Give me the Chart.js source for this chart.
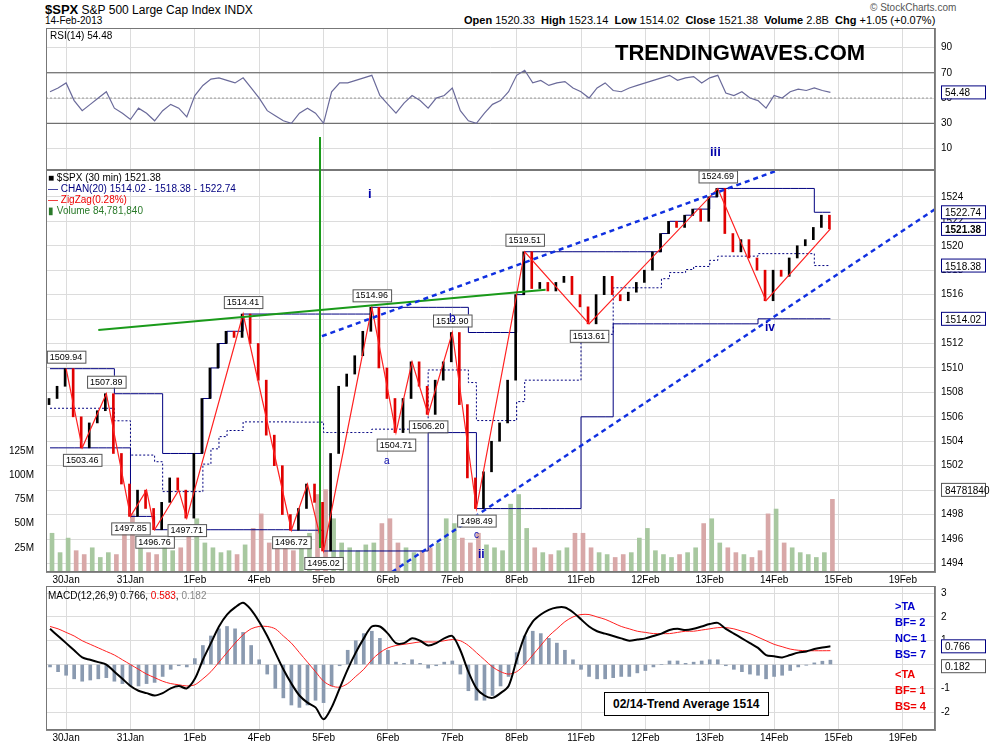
<!DOCTYPE html>
<html><head><meta charset="utf-8">
<script src="https://cdn.jsdelivr.net/npm/chart.js@4/dist/chart.umd.min.js"></script>
<style>
body{margin:0;background:#fff;font-family:"Liberation Sans",Arial,sans-serif;}
#wrap{position:relative;width:990px;height:744px;overflow:hidden;}
canvas{position:absolute;left:0;}
.t{position:absolute;white-space:nowrap;font-size:11px;}
</style></head><body><div id="wrap">
<canvas id="rsi" width="990" height="142" style="top:28px"></canvas>
<canvas id="main" width="990" height="416" style="top:170px"></canvas>
<canvas id="macd" width="990" height="158" style="top:586px"></canvas>
<div class="t" style="left:45px;top:2px;font-size:12px"><b style="font-size:13px">$SPX</b> S&amp;P 500 Large Cap Index INDX</div>
<div class="t" style="left:45px;top:15px;font-size:10px">14-Feb-2013</div>
<div class="t" style="left:464px;top:14px;font-size:11px"><b>Open</b> 1520.33 &nbsp;<b>High</b> 1523.14 &nbsp;<b>Low</b> 1514.02 &nbsp;<b>Close</b> 1521.38 &nbsp;<b>Volume</b> 2.8B &nbsp;<b>Chg</b> +1.05 (+0.07%)</div>
<div class="t" style="left:870px;top:2px;font-size:10px;color:#555">© StockCharts.com</div>
<div class="t" style="left:615px;top:40px;font-size:22px;font-weight:bold">TRENDINGWAVES.COM</div>
<div class="t" style="left:50px;top:30px;font-size:10px">RSI(14) 54.48</div>
<div class="t" style="left:48px;top:172px;font-size:10px;line-height:11px">■ $SPX (30 min) 1521.38<br><span style="color:#000080">— CHAN(20) 1514.02 - 1518.38 - 1522.74</span><br><span style="color:#e00">— ZigZag(0.28%)</span><br><span style="color:#2a7a2a">▮ Volume 84,781,840</span></div>
<div class="t" style="left:48px;top:590px;font-size:10px">MACD(12,26,9) 0.766, <span style="color:#e00">0.583</span>, <span style="color:#888">0.182</span></div>
<div style="position:absolute;left:319px;top:137px;width:2px;height:411px;background:#1a9a1a"></div>
<div class="t" style="left:368px;top:186px;color:#00a;font-weight:bold;font-size:13px">i</div>
<div class="t" style="left:384px;top:455px;color:#00a;font-size:10px">a</div>
<div class="t" style="left:449px;top:311px;color:#00a;font-size:12px">b</div>
<div class="t" style="left:474px;top:529px;color:#00a;font-size:10px">c</div>
<div class="t" style="left:478px;top:547px;color:#00a;font-weight:bold;font-size:12px">ii</div>
<div class="t" style="left:710px;top:144px;color:#00a;font-weight:bold;font-size:13px">iii</div>
<div class="t" style="left:765px;top:320px;color:#00a;font-weight:bold;font-size:12px">iv</div>
<div class="t" style="left:895px;top:598px;color:#00c;font-weight:bold;font-size:11px;line-height:16px">&gt;TA<br>BF= 2<br>NC= 1<br>BS= 7</div>
<div class="t" style="left:895px;top:666px;color:#e00;font-weight:bold;font-size:11px;line-height:16px">&lt;TA<br>BF= 1<br>BS= 4</div>
<div class="t" style="left:604px;top:692px;border:1px solid #000;background:#fff;padding:4px 8px;font-weight:bold;font-size:12px">02/14-Trend Average 1514</div>
</div>
<script>
// x = bar index (8 bars of 30 min per day drawn)
const dayIdx = [2, 10, 18, 26, 34, 42, 50, 58, 66, 74, 82, 90, 98, 106];
const dayLabels = ['30Jan', '31Jan', '1Feb', '4Feb', '5Feb', '6Feb', '7Feb', '8Feb', '11Feb', '12Feb', '13Feb', '14Feb', '15Feb', '19Feb'];

const closes = [1507.5, 1508.5, 1509.94, 1506, 1503.46, 1505.5, 1506.5, 1507.89, 1503, 1500.5,
  1497.85, 1500, 1498.5, 1496.76, 1499, 1501, 1500, 1497.71, 1503, 1507.5,
  1510, 1512, 1513, 1512.5, 1514.41, 1512, 1509, 1504.5, 1502, 1498,
  1496.72, 1498.5, 1500.5, 1499, 1495.02, 1503, 1508.5, 1509.5, 1511, 1513,
  1514.96, 1510, 1507.5, 1504.71, 1507.5, 1510.5, 1508.5, 1506.2, 1509, 1510.5,
  1512.9, 1507, 1501, 1498.49, 1501.5, 1504, 1505.5, 1509, 1516, 1519.51,
  1516.5, 1517, 1516.3, 1517, 1517.5, 1516, 1515, 1513.61, 1516, 1517.5,
  1516, 1515.5, 1516.2, 1517, 1518, 1519.5, 1521, 1522, 1521.5, 1522.5,
  1523, 1522, 1524, 1524.69, 1521, 1519.5, 1520.5, 1519, 1518, 1515.5,
  1518, 1517.5, 1519, 1520, 1520.5, 1521.5, 1522.5, 1521.38];

const volumes = [40, 20, 35, 22, 18, 25, 15, 20, 18, 45,
  60, 25, 20, 18, 30, 22, 25, 48,
  55, 30, 25, 20, 22, 18, 28, 45,
  60, 30, 28, 25, 22, 35, 40, 80,
  85, 55, 30, 25, 22, 28, 30, 50,
  55, 30, 25, 20, 22, 25, 30, 55,
  50, 35, 30, 40, 28, 25, 22, 70,
  80, 45, 25, 20, 18, 22, 25, 40,
  40, 25, 20, 18, 15, 18, 20, 35,
  45, 22, 18, 15, 18, 20, 25, 50,
  55, 30, 25, 20, 18, 15, 22, 60,
  65, 30, 25, 20, 18, 15, 20, 75];

const upperSteps = [[0, 1509.94], [8, 1507.89], [14, 1503.0], [19, 1507.5], [20, 1510], [21, 1512], [22, 1513], [24, 1514.41], [40, 1514.96], [52, 1512.9], [58, 1516], [59, 1519.51], [76, 1521], [77, 1522], [79, 1522.5], [80, 1523], [82, 1524], [83, 1524.69], [95, 1522.74]];
const lowerSteps = [[0, 1503.46], [10, 1497.85], [13, 1496.76], [30, 1496.72], [34, 1495.02], [47, 1504.71], [53, 1498.49], [66, 1506.0], [70, 1513.61], [88, 1514.02]];

const zigzag = [[2, 1509.94], [4, 1503.46], [7, 1507.89], [10, 1497.85], [12, 1500], [13, 1496.76], [16, 1500], [17, 1497.71], [24, 1514.41], [30, 1496.72], [32, 1500.5], [34, 1495.02], [40, 1514.96], [43, 1504.71], [45, 1510.5], [47, 1506.2], [50, 1512.9], [53, 1498.49], [59, 1519.51], [67, 1513.61], [83, 1524.69], [89, 1515.5], [97, 1521.38]];
const pivotLabels = [[2, 1509.94, 'up'], [4, 1503.46, 'dn'], [7, 1507.89, 'up'], [10, 1497.85, 'dn'], [13, 1496.76, 'dn'], [17, 1497.71, 'dn'], [24, 1514.41, 'up'], [30, 1496.72, 'dn'], [34, 1495.02, 'dn'], [40, 1514.96, 'up'], [43, 1504.71, 'dn'], [47, 1506.2, 'dn'], [50, 1512.9, 'up'], [53, 1498.49, 'dn'], [59, 1519.51, 'up'], [67, 1513.61, 'dn'], [83, 1524.69, 'up']];

const trendUpper = [[33.8, 1512.6], [108.5, 1530.5]];
const trendLower = [[42.5, 1493.3], [110.7, 1523.3]];
const trendGreen = [[6, 1513.1], [61.6, 1516.4]];

const rsi = [55, 58, 62, 48, 40, 45, 50, 55, 42, 38, 33, 42, 38, 32, 40, 45, 42, 35, 52, 60,
  65, 66, 64, 62, 66, 58, 50, 40, 36, 32, 30, 38, 42, 38, 30, 55, 62, 62, 64, 66,
  68, 52, 45, 38, 46, 52, 48, 42, 50, 52, 58, 40, 32, 30, 38, 45, 48, 55, 68, 72,
  62, 64, 60, 62, 63, 58, 55, 50, 58, 62, 56, 55, 58, 60, 62, 64, 66, 68, 64, 66,
  67, 62, 66, 68, 54, 52, 55, 50, 48, 42, 52, 50, 55, 57, 56, 58, 56, 54.48];

const macd = [1.5, 1.2, 0.9, 0.6, 0.3, 0.2, 0.1, 0.0, -0.3, -0.6, -0.9, -1.1, -1.2, -1.3, -1.2, -1.0, -0.9, -1.0, -0.6, 0.2,
  0.9, 1.6, 2.1, 2.4, 2.6, 2.3, 1.8, 1.2, 0.5, -0.2, -0.8, -1.3, -1.6, -1.8, -2.3, -1.8, -1.0, -0.2, 0.5, 1.1,
  1.6, 1.6, 1.3, 0.9, 0.9, 1.1, 1.0, 0.8, 0.9, 1.1, 1.2, 0.6, -0.3, -1.0, -1.3, -1.4, -1.2, -0.9, 0.2, 1.2,
  1.8, 2.1, 2.3, 2.4, 2.4, 2.2, 1.9, 1.6, 1.4, 1.3, 1.2, 1.1, 1.0, 1.05, 1.1, 1.2, 1.3, 1.45, 1.5, 1.45,
  1.5, 1.6, 1.7, 1.75, 1.5, 1.3, 1.1, 0.9, 0.7, 0.4, 0.35, 0.3, 0.4, 0.5, 0.55, 0.65, 0.72, 0.766];
const signal = [1.6, 1.5, 1.35, 1.2, 1.0, 0.85, 0.7, 0.55, 0.4, 0.2, 0.0, -0.2, -0.4, -0.55, -0.7, -0.8, -0.85, -0.9, -0.85, -0.6,
  -0.3, 0.1, 0.5, 0.9, 1.25, 1.5, 1.6, 1.6, 1.5, 1.2, 0.9, 0.5, 0.1, -0.3, -0.7, -0.9, -0.95, -0.8, -0.5, -0.2,
  0.2, 0.5, 0.7, 0.8, 0.85, 0.9, 0.95, 0.95, 0.95, 1.0, 1.05, 1.0, 0.8, 0.5, 0.2, -0.1, -0.3, -0.4, -0.3, 0.0,
  0.4, 0.8, 1.2, 1.5, 1.8, 2.0, 2.1, 2.1, 2.0, 1.9, 1.75, 1.6, 1.5, 1.4, 1.35, 1.3, 1.3, 1.3, 1.35, 1.4,
  1.4, 1.45, 1.5, 1.55, 1.55, 1.5, 1.4, 1.3, 1.15, 1.0, 0.85, 0.75, 0.65, 0.6, 0.58, 0.58, 0.58, 0.583];

const pts = arr => arr.map(p => ({x: p[0], y: p[1]}));
function expand(steps) {
  const out = [];
  for (let i = 0; i < closes.length; i++) {
    let v = steps[0][1];
    steps.forEach(s => { if (s[0] <= i) v = s[1]; });
    out.push(v);
  }
  return out;
}
const upper = expand(upperSteps), lower = expand(lowerSteps);

const grid = '#dcdcdc';
function xScale(showLabels) {
  return {
    type: 'linear', min: -0.5, max: 110, offset: false,
    afterBuildTicks: s => { s.ticks = dayIdx.map(v => ({value: v})); },
    afterFit: s => { s.height = showLabels ? 14 : 0; s.paddingLeft = 0; s.paddingRight = 0; },
    grid: {color: grid, drawTicks: false, offset: false},
    border: {color: '#888'},
    ticks: {display: showLabels, padding: 2, color: '#000', font: {size: 10}, maxRotation: 0, autoSkip: false,
      callback: v => dayLabels[dayIdx.indexOf(v)]}
  };
}
function rightScale(min, max, tickVals, fmt) {
  return {
    position: 'right', min: min, max: max,
    afterBuildTicks: s => { s.ticks = tickVals.map(v => ({value: v})); },
    afterFit: s => { s.width = 55; s.paddingTop = 0; s.paddingBottom = 0; },
    grid: {color: grid, drawTicks: false},
    border: {color: '#888'},
    ticks: {padding: 6, color: '#000', font: {size: 10}, callback: fmt || (v => v)}
  };
}
const baseOpts = {
  responsive: false, animation: false,
  plugins: {legend: {display: false}, tooltip: {enabled: false}},
};
const frame = {
  id: 'frame',
  afterDraw(c) {
    const a = c.chartArea, g = c.ctx;
    g.save(); g.strokeStyle = '#777'; g.lineWidth = 1;
    g.strokeRect(a.left + 0.5, a.top + 0.5, a.width - 1, a.height - 1); g.restore();
  }
};
function valueBox(g, y, text, bold, color) {
  g.fillStyle = '#fff'; g.strokeStyle = color || '#000080';
  g.fillRect(941, y - 7, 44, 13); g.strokeRect(941.5, y - 6.5, 44, 13);
  g.fillStyle = '#000'; g.font = (bold ? 'bold ' : '') + '10px Liberation Sans';
  g.textAlign = 'left'; g.fillText(text, 945, y + 4);
}

// RSI panel
const rsiLines = {
  id: 'rsiLines',
  beforeDatasetsDraw(c) {
    const g = c.ctx, a = c.chartArea, y = c.scales.y;
    g.save(); g.strokeStyle = '#555'; g.lineWidth = 1;
    [70, 30].forEach(v => { g.beginPath(); g.moveTo(a.left, y.getPixelForValue(v)); g.lineTo(a.right, y.getPixelForValue(v)); g.stroke(); });
    g.setLineDash([2, 2]); g.strokeStyle = '#999';
    g.beginPath(); g.moveTo(a.left, y.getPixelForValue(50)); g.lineTo(a.right, y.getPixelForValue(50)); g.stroke();
    g.restore();
  },
  afterDraw(c) {
    const g = c.ctx;
    g.save(); valueBox(g, c.scales.y.getPixelForValue(54.48), '54.48'); g.restore();
  }
};
new Chart(document.getElementById('rsi'), {
  type: 'line',
  data: {datasets: [{data: rsi.map((v, i) => ({x: i, y: v})), borderColor: '#6a6a9a', borderWidth: 1.2, pointRadius: 0, tension: 0}]},
  options: {...baseOpts, layout: {padding: {left: 46}, autoPadding: false},
    scales: {x: xScale(false), y: rightScale(-7, 105.5, [10, 30, 50, 70, 90])}},
  plugins: [rsiLines, frame]
});

// price panel
const labelsPlugin = {
  id: 'pivots',
  afterDatasetsDraw(c) {
    const g = c.ctx, xs = c.scales.x, ys = c.scales.y;
    g.save(); g.font = '9px Liberation Sans'; g.textAlign = 'center';
    pivotLabels.forEach(p => {
      const x = xs.getPixelForValue(p[0]), y = ys.getPixelForValue(p[1]) + (p[2] === 'up' ? -12 : 12);
      const t = p[1].toFixed(2), w = g.measureText(t).width + 6;
      g.fillStyle = '#fff'; g.strokeStyle = '#555';
      g.fillRect(x - w / 2, y - 6, w, 12); g.strokeRect(x - w / 2 + 0.5, y - 5.5, w, 12);
      g.fillStyle = '#000'; g.fillText(t, x, y + 3);
    });
    [[1522.74, false], [1521.38, true], [1518.38, false], [1514.02, false]].forEach(p => {
      valueBox(g, ys.getPixelForValue(p[0]), p[0].toFixed(2), p[1]);
    });
    valueBox(g, c.scales.v.getPixelForValue(84.78), '84781840', false, '#555');
    g.restore();
  }
};
const candleData = closes.map((c, i) => ({x: i, y: [i ? closes[i - 1] : c - 0.5, c]}));
const upDown = closes.map((c, i) => i === 0 || c >= closes[i - 1]);
new Chart(document.getElementById('main'), {
  type: 'bar',
  data: {datasets: [
    {type: 'bar', data: volumes.map((v, i) => ({x: i, y: v})), yAxisID: 'v', order: 10,
      backgroundColor: upDown.map(u => u ? '#a8c8a0' : '#d8a8a8'), barThickness: 4},
    {type: 'bar', data: candleData, yAxisID: 'y', order: 2,
      backgroundColor: upDown.map(u => u ? '#000' : '#e00000'), barThickness: 2, minBarLength: 1},
    {type: 'line', data: upper.map((v, i) => ({x: i, y: v})), stepped: true, borderColor: '#000080', borderWidth: 1, pointRadius: 0, order: 5},
    {type: 'line', data: lower.map((v, i) => ({x: i, y: v})), stepped: true, borderColor: '#000080', borderWidth: 1, pointRadius: 0, order: 5},
    {type: 'line', data: upper.map((v, i) => ({x: i, y: (v + lower[i]) / 2})), stepped: true, borderColor: '#000080', borderWidth: 1, borderDash: [2, 2], pointRadius: 0, order: 5},
    {type: 'line', data: pts(zigzag), borderColor: '#ff2020', borderWidth: 1.2, pointRadius: 0, order: 1},
    {type: 'line', data: pts(trendUpper), borderColor: '#1030e0', borderWidth: 2.5, borderDash: [5, 4], pointRadius: 0, order: 0},
    {type: 'line', data: pts(trendLower), borderColor: '#1030e0', borderWidth: 2.5, borderDash: [5, 4], pointRadius: 0, order: 0},
    {type: 'line', data: pts(trendGreen), borderColor: '#1a9a1a', borderWidth: 2, pointRadius: 0, order: 0}
  ]},
  options: {...baseOpts, layout: {autoPadding: false},
    scales: {
      x: xScale(true),
      y: rightScale(1493.3, 1526.2, [1494, 1496, 1498, 1500, 1502, 1504, 1506, 1508, 1510, 1512, 1514, 1516, 1518, 1520, 1522, 1524]),
      v: {position: 'left', min: 0, max: 415,
        afterBuildTicks: s => { s.ticks = [25, 50, 75, 100, 125].map(v => ({value: v})); },
        afterFit: s => { s.width = 46; s.paddingTop = 0; s.paddingBottom = 0; },
        grid: {display: false}, border: {display: false},
        ticks: {color: '#000', font: {size: 10}, padding: 4, callback: v => v + 'M'}}
    }},
  plugins: [labelsPlugin, frame]
});

// MACD panel
const hist = macd.map((m, i) => m - signal[i]);
const macdBoxes = {
  id: 'macdBoxes',
  afterDraw(c) {
    const g = c.ctx, y = c.scales.y;
    g.save();
    valueBox(g, y.getPixelForValue(0.766), '0.766');
    valueBox(g, y.getPixelForValue(0.182) + 6, '0.182', false, '#555');
    g.restore();
  }
};
new Chart(document.getElementById('macd'), {
  type: 'bar',
  data: {datasets: [
    {type: 'line', data: macd.map((v, i) => ({x: i, y: v})), borderColor: '#000', borderWidth: 2, pointRadius: 0, tension: 0.3, order: 0},
    {type: 'line', data: signal.map((v, i) => ({x: i, y: v})), borderColor: '#ff2020', borderWidth: 1, pointRadius: 0, tension: 0.3, order: 1},
    {type: 'bar', data: hist.map((v, i) => ({x: i, y: v})), backgroundColor: '#8a9ab0', barThickness: 3, order: 5}
  ]},
  options: {...baseOpts, layout: {padding: {left: 46}, autoPadding: false},
    scales: {x: xScale(true),
      y: rightScale(-2.75, 3.3, [-2, -1, 0, 1, 2, 3], v => v)}},
  plugins: [frame, macdBoxes]
});
</script></body></html>
